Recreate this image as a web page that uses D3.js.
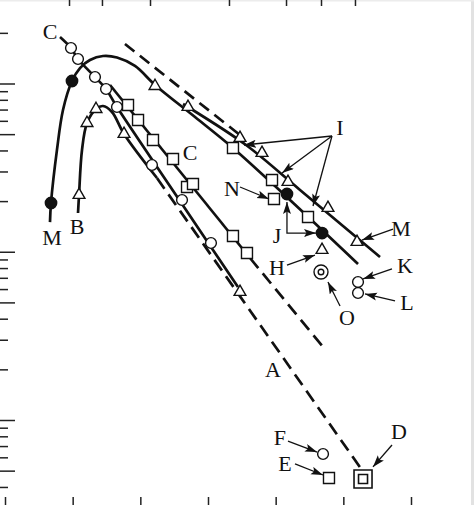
<!DOCTYPE html>
<html>
<head>
<meta charset="utf-8">
<script src="https://cdn.jsdelivr.net/npm/d3@7"></script>
<style>
  body { margin: 0; background: #fff; }
  svg { display: block; }
  .lbl { font-family: "Liberation Serif", "Times New Roman", serif; font-size: 22px; fill: #111; }
  .tick line { stroke: #222; stroke-width: 1.5; }
</style>
</head>
<body>
<script>
var width = 474,
    height = 505;

// - - - - DATA (x: linear units, y: log scale) - - - -
var xTicks = [0, 1, 2, 3, 4, 5, 6];
var topTicks = [0.946, 1.433, 2.143, 3.31, 4.153, 4.67, 5.172];

// curve M (rises steeply, then falls through the squares / filled dots)
var mX = [0.665, 0.68, 0.768, 0.857, 0.99, 1.108, 1.256, 1.448, 1.655, 1.921, 2.217, 2.808, 3.369, 4.212, 5.217];
var mY = [1500, 1950, 4030, 6960, 10350, 12360, 13800, 14570, 14270, 12710, 9800, 6320, 4140, 2031, 846];

// line I (upper solid one, triangles)
var iX = [2.631, 2.704, 3.562, 4.36, 5.542];
var iY = [7550, 7250, 4310, 2330, 931];

// dashed line above I
var dX = [1.773, 3.473];
var dY = [17170, 4940];

// curve C (open circles)
var cX = [0.813, 0.975, 1.079, 1.33, 1.493, 1.655, 2.586, 3.443];
var cY = [18890, 16260, 13980, 10930, 9275, 7250, 2003, 617];

// curve B, then dashed A down to D
var bX = [1.079, 1.094, 1.138, 1.212, 1.345, 1.448, 1.581, 1.759, 2.246];
var bY = [1700, 2175, 4026, 5820, 7050, 7350, 6770, 5010, 2743];
var aX = [2.246, 5.276];
var aY = [2743, 50.4];

// squares line (solid, then dashed)
var sX = [1.552, 3.621];
var sY = [9800, 918];
var sDashX = [3.621, 4.7];
var sDashY = [918, 272];

// markers
var circleX = [0.975, 1.079, 1.33, 1.493, 1.655, 2.172, 2.616, 3.044, 5.217, 5.217, 4.7];
var circleY = [16260, 13980, 10930, 9275, 7250, 3279, 2031, 1127, 661, 569, 62.8];
var dotX = [0.68, 0.99, 4.167, 4.685];
var dotY = [1949, 10350, 2204, 1292];
var squareX = [1.818, 1.966, 2.187, 2.483, 2.69, 2.778, 3.369, 3.576, 3.369, 3.946, 3.975, 4.478, 4.788];
var squareY = [7450, 6070, 4615, 3558, 2426, 2527, 1240, 983, 4137, 2669, 2058, 1609, 45.2];
var triX = [1.094, 1.212, 1.345, 1.759, 2.217, 2.704, 3.473, 3.798, 4.182, 4.773, 5.202, 4.685, 3.473];
var triY = [2175, 5820, 7050, 5010, 9660, 7250, 4745, 3863, 2598, 1820, 1143, 1024, 576.5];
var ringX = [4.67],  ringY = [758];   // O
var boxX = [5.291],  boxY = [44.6];   // D

// labels
var labelText = ["C", "C", "M", "B", "I", "N", "J", "M", "H", "O", "K", "L", "A", "F", "E", "D"];
var labelX = [0.665, 2.734, 0.695, 1.064, 4.951, 3.355, 4.02, 5.852, 4.02, 5.054, 5.911, 5.941, 3.961, 4.064, 4.138, 5.823];
var labelY = [20240, 3863, 1207, 1403, 5440, 2360, 1240, 1365, 800.5, 404, 823, 496, 198, 78.2, 54.8, 84.9];

// arrows (from -> to)
var arrowFromX = [4.832, 4.832, 4.832, 3.473, 5.734, 4.167, 4.951, 5.719, 5.764, 4.182, 4.286, 5.719];
var arrowFromY = [4875, 4875, 4875, 2426, 1365, 834, 476, 790, 510, 75.0, 54.8, 71.0];
var arrowToX = [3.532, 4.094, 4.552, 3.901, 5.276, 4.581, 4.773, 5.291, 5.32, 4.611, 4.7, 5.438];
var arrowToY = [4310, 2938, 1870, 2058, 1174, 956, 661, 689, 561, 64.5, 47.1, 52.6];
// J bracket: up to one dot, right to the other
var jX = [4.167, 4.167, 4.596];
var jY = [1975, 1292, 1292];

function zip(xs, ys) { return xs.map(function(v, i) { return [v, ys[i]]; }); }

var x = d3.scaleLinear().domain([0, 6]).range([5, 411]);
var y = d3.scaleLog().domain([100, 10000]).range([420, 83.5]);

var svg = d3.select("body").append("svg")
    .attr("width", width)
    .attr("height", height);

svg.append("rect").attr("width", width).attr("height", height).attr("fill", "#fff");
// scan edges
svg.append("rect").attr("x", 471).attr("width", 3).attr("height", height).attr("fill", "#e2e2e2");
svg.append("rect").attr("width", width).attr("height", 1.5).attr("fill", "#ececec");

var defs = svg.append("defs");
defs.append("marker")
    .attr("id", "head")
    .attr("markerUnits", "userSpaceOnUse")
    .attr("markerWidth", 13).attr("markerHeight", 9)
    .attr("refX", 12).attr("refY", 4)
    .attr("orient", "auto-start-reverse")
  .append("path")
    .attr("d", "M0,0L12,4L0,8L2.5,4Z")
    .attr("fill", "#111");

// - - - - AXES (only the inward ticks show) - - - -
var yAll = d3.scaleLog().domain([y.invert(height), y.invert(0)]).ticks()
    .filter(function(v) { return y(v) > 10 && y(v) < height - 5; });
function lead(v) { return Math.round(v / Math.pow(10, Math.floor(Math.log10(v) + 1e-9))); }
var yMajor = yAll.filter(function(v) { var l = lead(v); return l === 1 || l === 5; });
var yMinor = yAll.filter(function(v) { var l = lead(v); return l !== 1 && l !== 5; });

svg.append("g").call(d3.axisRight(y).tickValues(yMajor).tickSize(15).tickFormat(""))
    .select(".domain").remove();
svg.append("g").call(d3.axisRight(y).tickValues(yMinor).tickSize(8).tickFormat(""))
    .select(".domain").remove();
svg.append("g").attr("transform", "translate(0," + height + ")")
    .call(d3.axisTop(x).tickValues(xTicks).tickSize(8).tickFormat(""))
    .select(".domain").remove();
svg.append("g")
    .call(d3.axisBottom(x).tickValues(topTicks).tickSize(6).tickFormat(""))
    .select(".domain").remove();

// - - - - LINES - - - -
var curve = d3.line()
    .x(function(d) { return x(d[0]); })
    .y(function(d) { return y(d[1]); })
    .curve(d3.curveCatmullRom.alpha(0.5));

var lines = [
  { pts: zip(mX, mY), dash: null },
  { pts: zip(iX, iY), dash: null },
  { pts: zip(dX, dY), dash: "12,7" },
  { pts: zip(cX, cY), dash: null },
  { pts: zip(bX, bY), dash: null },
  { pts: zip(aX, aY), dash: "13,7" },
  { pts: zip(sX, sY), dash: null },
  { pts: zip(sDashX, sDashY), dash: "13,7" }
];

svg.append("g").selectAll("path")
    .data(lines)
  .enter().append("path")
    .attr("d", function(d) { return curve(d.pts); })
    .attr("fill", "none")
    .attr("stroke", "#111")
    .attr("stroke-width", 2.7)
    .attr("stroke-dasharray", function(d) { return d.dash; });

// - - - - MARKERS - - - -
var mk = svg.append("g").attr("stroke", "#111").attr("stroke-width", 1.4);

mk.selectAll(".open").data(zip(circleX, circleY))
  .enter().append("circle")
    .attr("cx", function(d) { return x(d[0]); })
    .attr("cy", function(d) { return y(d[1]); })
    .attr("r", 5.4)
    .attr("fill", "#fff");

mk.selectAll(".dot").data(zip(dotX, dotY))
  .enter().append("circle")
    .attr("cx", function(d) { return x(d[0]); })
    .attr("cy", function(d) { return y(d[1]); })
    .attr("r", 5.7)
    .attr("fill", "#111");

mk.selectAll(".sq").data(zip(squareX, squareY))
  .enter().append("path")
    .attr("transform", function(d) { return "translate(" + x(d[0]) + "," + y(d[1]) + ")"; })
    .attr("d", d3.symbol().type(d3.symbolSquare).size(121))
    .attr("fill", "#fff");

mk.selectAll(".tri").data(zip(triX, triY))
  .enter().append("path")
    .attr("transform", function(d) { return "translate(" + x(d[0]) + "," + y(d[1]) + ")"; })
    .attr("d", d3.symbol().type(d3.symbolTriangle).size(60))
    .attr("fill", "#fff");

// O: circle in circle
zip(ringX, ringY).forEach(function(d) {
  mk.append("circle").attr("cx", x(d[0])).attr("cy", y(d[1])).attr("r", 7).attr("fill", "#fff");
  mk.append("circle").attr("cx", x(d[0])).attr("cy", y(d[1])).attr("r", 2.8).attr("fill", "#fff");
});
// D: square in square
zip(boxX, boxY).forEach(function(d) {
  mk.append("path").attr("transform", "translate(" + x(d[0]) + "," + y(d[1]) + ")")
      .attr("d", d3.symbol().type(d3.symbolSquare).size(324)).attr("fill", "#fff").attr("stroke-width", 1.6);
  mk.append("path").attr("transform", "translate(" + x(d[0]) + "," + y(d[1]) + ")")
      .attr("d", d3.symbol().type(d3.symbolSquare).size(81)).attr("fill", "#fff").attr("stroke-width", 1.6);
});

// - - - - ARROWS + LABELS - - - -
var ar = svg.append("g").attr("stroke", "#111").attr("stroke-width", 1.3).attr("fill", "none");

ar.selectAll("line").data(arrowFromX)
  .enter().append("line")
    .attr("x1", function(d, i) { return x(arrowFromX[i]); })
    .attr("y1", function(d, i) { return y(arrowFromY[i]); })
    .attr("x2", function(d, i) { return x(arrowToX[i]); })
    .attr("y2", function(d, i) { return y(arrowToY[i]); })
    .attr("marker-end", "url(#head)");

ar.append("path")
    .attr("d", d3.line().x(function(d) { return x(d[0]); }).y(function(d) { return y(d[1]); })(zip(jX, jY)))
    .attr("marker-start", "url(#head)")
    .attr("marker-end", "url(#head)");

svg.append("g").selectAll("text")
    .data(labelText)
  .enter().append("text")
    .attr("class", "lbl")
    .attr("x", function(d, i) { return x(labelX[i]); })
    .attr("y", function(d, i) { return y(labelY[i]); })
    .attr("dy", "0.33em")
    .attr("text-anchor", "middle")
    .text(function(d) { return d; });
</script>
</body>
</html>
